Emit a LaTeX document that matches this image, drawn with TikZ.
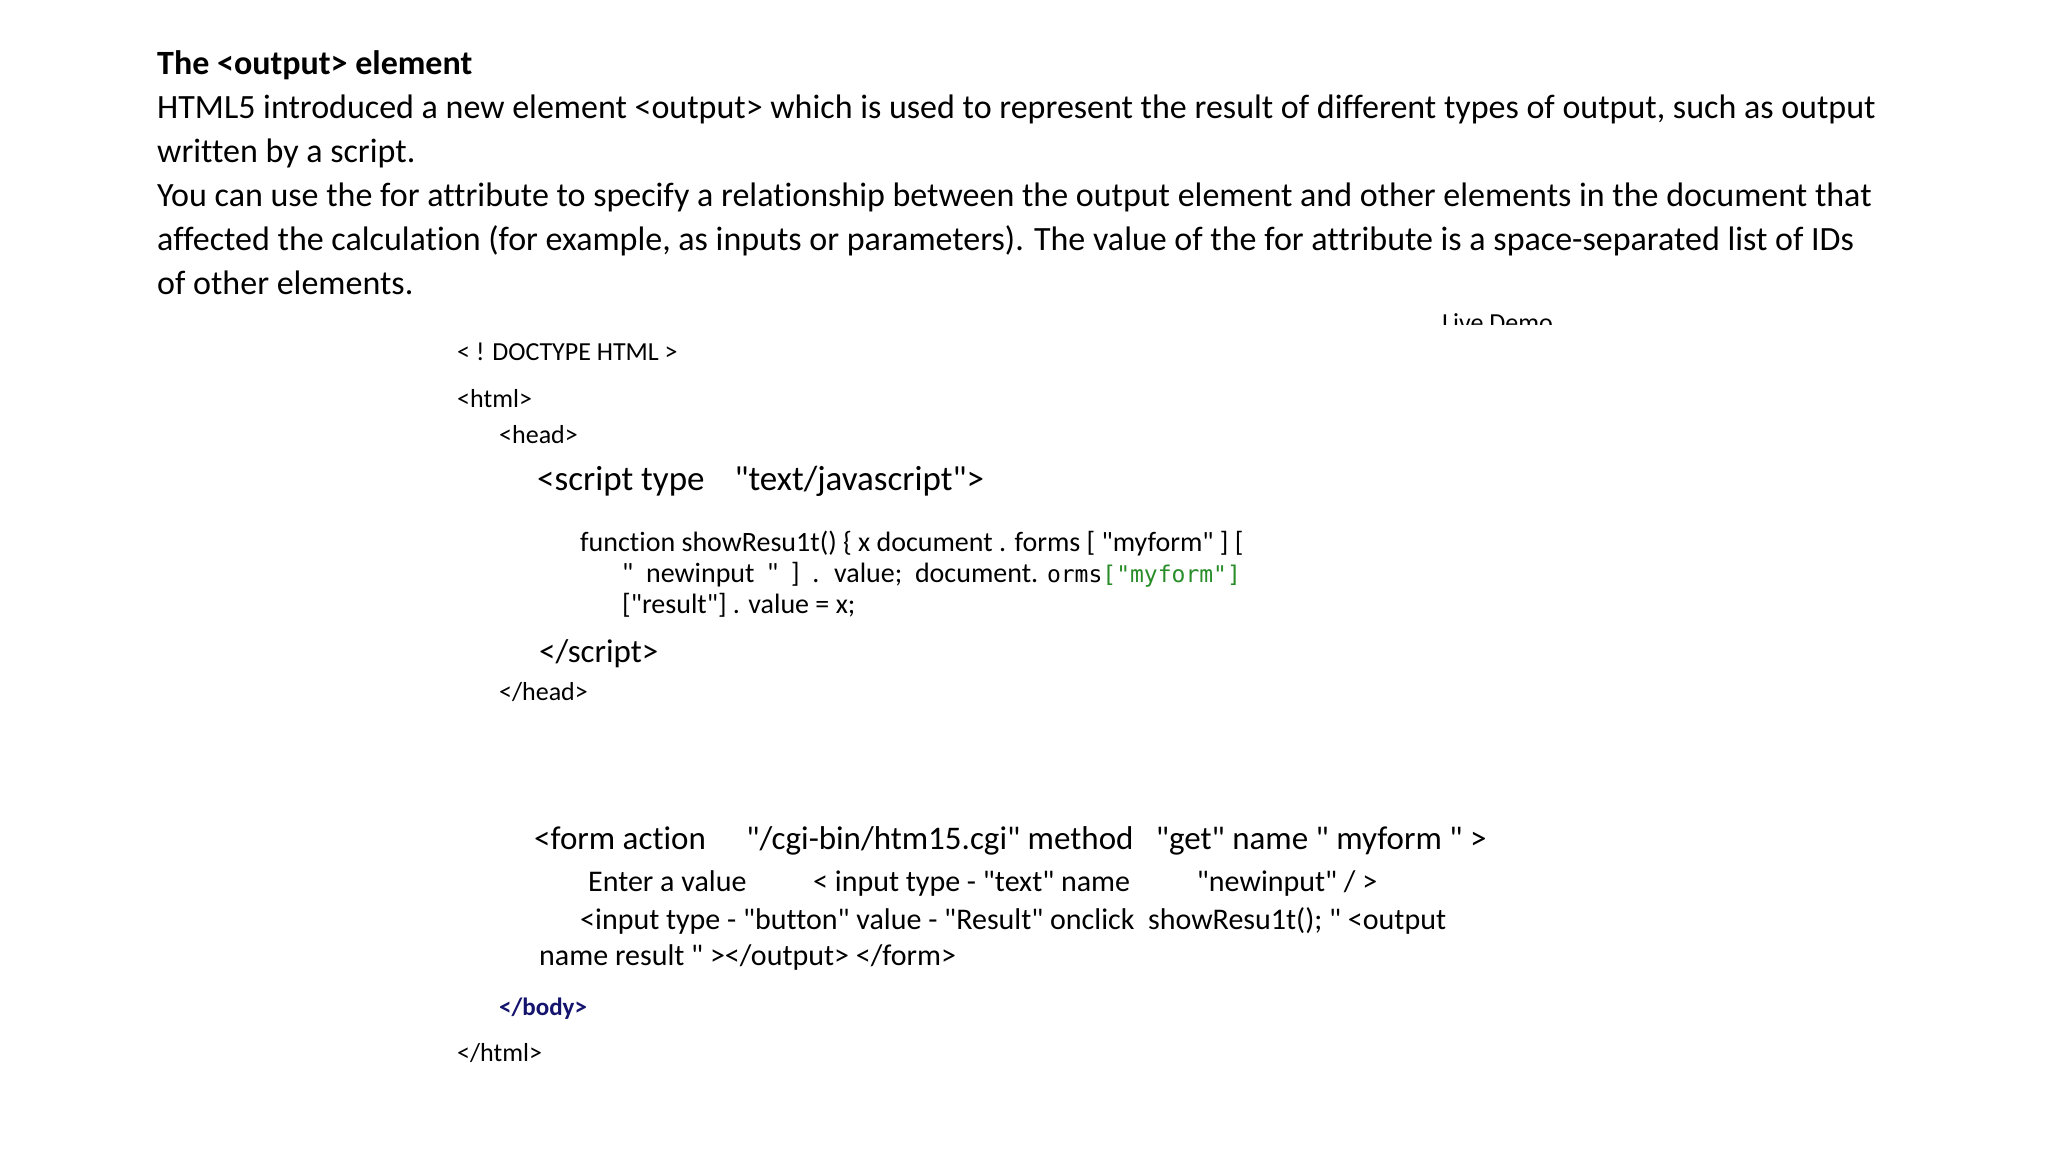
\documentclass[tikz,border=0pt]{standalone}
\usepackage{fontspec}
\setmainfont{Carlito}[Ligatures={TeXOff,NoCommon}]
\newfontfamily\monof{DejaVu Sans Mono}[Ligatures=TeXOff]
\definecolor{navy}{RGB}{20,20,110}
\definecolor{grn}{RGB}{40,140,40}
\begin{document}
\begin{tikzpicture}[x=1pt,y=-1pt,
  body/.style={anchor=base west,inner sep=0pt,font=\fontsize{34}{40}\selectfont},
  code/.style={anchor=base west,inner sep=0pt,font=\fontsize{26}{30}\selectfont},
  fcode/.style={anchor=base west,inner sep=0pt,font=\fontsize{28}{32}\selectfont},
  bigcode/.style={anchor=base west,inner sep=0pt,font=\fontsize{33}{38}\selectfont},
  midcode/.style={anchor=base west,inner sep=0pt,font=\fontsize{30}{35}\selectfont}]
\useasboundingbox (0,0) rectangle (2048,1152);
\fill[white] (0,0) rectangle (2048,1152);
\node[body,font=\fontsize{34}{40}\selectfont\bfseries] (t) at (157,74) {The <output> element};
\node[body] (p1) at (157,118) {HTML5 introduced a new element <output> which is used to represent the result of different types of output, such as output};
\node[body] (p2) at (157,162) {written by a script.};
\node[body] (p3) at (157,206) {You can use the for attribute to specify a relationship between the output element and other elements in the document that};
\node[body] (p4) at (157,250) {affected the calculation (for example, as inputs or parameters). The value of the for attribute is a space-separated list of IDs};
\node[body] (p5) at (157,294) {of other elements.};
\begin{scope}
\clip (1400,310) rectangle (1600,324);
\node[code] (live) at (1442,331) {Live Demo};
\end{scope}
\node[code] (c1) at (457,360) {< ! DOCTYPE HTML >};
\node[code] (c2) at (457,407) {<html>};
\node[code] (c3) at (499,443) {<head>};
\node[bigcode,font=\fontsize{35}{40}\selectfont] (c4) at (537,490) {<script type \kern22pt "text/javascript">};
\node[fcode] (c5) at (580,551) {function showResu1t() \{ x document . forms [ "myform" ] [};
\node[fcode] (c6) at (622,582) {" \ newinput \ " \ ] \ . \ value; \ document. \ {\monof\fontsize{23}{26}\selectfont \kern-6pt orms\textcolor{grn}{["myform"]}}};
\node[fcode] (c7) at (622,613) {["result"] . value = x;};
\node[bigcode] (c8) at (539,662) {</script>};
\node[code] (c9) at (499,700) {</head>};
\node[bigcode] (c10) at (534,849) {<form action \quad "/cgi-bin/htm15.cgi" method \ \ "get" name " myform " >};
\node[midcode] (c11) at (588,891) {Enter a value \qquad < input type - "text" name \qquad "newinput" / >};
\node[midcode] (c12) at (580,929) {<input type - "button" value - "Result" onclick \ showResu1t(); " <output};
\node[midcode] (c13) at (539,965) {name result " ></output> </form>};
\node[code,font=\fontsize{25}{30}\selectfont\bfseries,text=navy] (c14) at (499,1015) {</body>};
\node[code] (c15) at (457,1061) {</html>};
\end{tikzpicture}
\end{document}
